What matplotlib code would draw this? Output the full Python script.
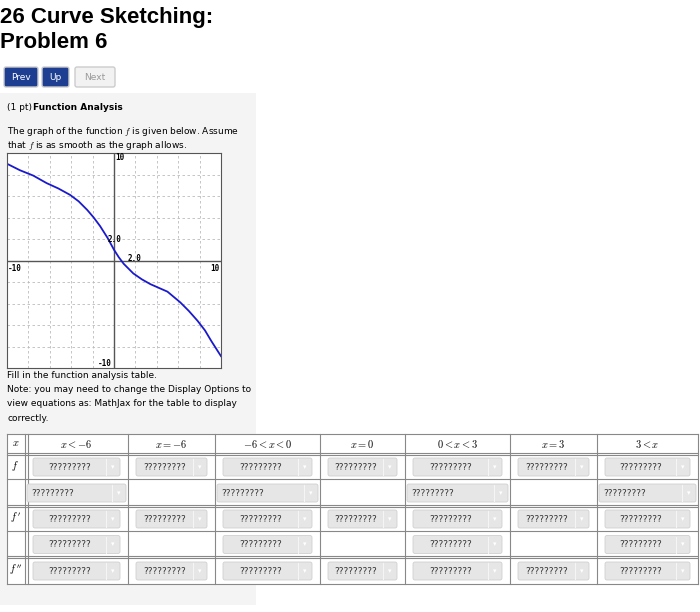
import matplotlib
matplotlib.use("Agg")
import matplotlib.pyplot as plt
from matplotlib.patches import Rectangle, FancyBboxPatch

plt.rcParams["mathtext.fontset"] = "cm"

curve_x = [-10, -8.8, -7.55, -6.3, -5.2, -4.1, -3.3, -2.5, -1.9, -1.3, -0.6, 0, 0.45, 0.9, 1.8, 2.6,
           3.4, 5, 6.2, 7.0, 7.8, 8.5, 9.1, 10]
curve_y = [9.0, 8.4, 7.9, 7.2, 6.7, 6.1, 5.5, 4.7, 4.0, 3.2, 2.1, 1.0, 0.3, -0.3, -1.2, -1.75,
           -2.2, -2.9, -3.9, -4.7, -5.6, -6.5, -7.5, -8.9]
headers = ["$x<-6$", "$x=-6$", "$-6<x<0$", "$x=0$", "$0<x<3$", "$x=3$", "$3<x$"]
row_labels = ["$f$", "", "$f\\,'$", "", "$f\\,''$"]
placeholder = "?????????"

fig = plt.figure(figsize=(7, 6.12), dpi=100)
ax = fig.add_axes([0, 0, 1, 1])
ax.set_xlim(0, 700); ax.set_ylim(612, 0); ax.axis("off")

ax.text(0, 18, "26 Curve Sketching:", fontsize=16, fontweight="bold", va="center", family="Liberation Sans")
ax.text(0, 43, "Problem 6", fontsize=16, fontweight="bold", va="center", family="Liberation Sans")

for (x0, x1, lab, fc, tc) in [(4, 38, "Prev", "#1d3e91", "white"), (42, 69, "Up", "#1d3e91", "white"),
                             (75, 115, "Next", "#f2f2f2", "#999999")]:
    ax.add_patch(FancyBboxPatch((x0, 67), x1 - x0, 20, boxstyle="round,pad=0,rounding_size=2",
                                fc=fc, ec="#cccccc"))
    ax.text((x0 + x1) / 2, 77, lab, fontsize=6.5, color=tc, ha="center", va="center")

ax.add_patch(Rectangle((0, 93), 256, 512, fc="#f4f4f4", ec="none"))
ax.text(7, 107, "(1 pt) ", fontsize=6.5, va="center")
ax.text(33, 107, "Function Analysis", fontsize=6.5, fontweight="bold", va="center")
ax.text(7, 132, "The graph of the function $f$ is given below. Assume", fontsize=6.5, va="center")
ax.text(7, 146, "that $f$ is as smooth as the graph allows.", fontsize=6.5, va="center")
for i, t in enumerate(["Fill in the function analysis table.",
                       "Note: you may need to change the Display Options to",
                       "view equations as: MathJax for the table to display",
                       "correctly."]):
    ax.text(7, 375 + 14.5 * i, t, fontsize=6.5, va="center")

# table
cols = [25, 128, 215, 320, 405, 510, 597, 698]
rows = [434, 453, 479, 505, 531, 556, 584]
ax.add_patch(Rectangle((7, 434), 691, 150, fc="white", ec="none", zorder=1))
for c in [7] + cols:
    ax.plot([c, c], [434, 584], color="#888888", lw=0.8, zorder=3)
ax.plot([28, 28], [434, 584], color="#888888", lw=0.8, zorder=3)
for r in rows:
    ax.plot([7, 698], [r, r], color="#888888", lw=0.8, zorder=3)
for r in [453, 505, 556]:
    ax.plot([7, 698], [r + 2, r + 2], color="#888888", lw=0.8, zorder=3)
ax.text(16, 443.5, "$x$", fontsize=7.5, ha="center", va="center", zorder=4)
for i, h in enumerate(headers):
    ax.text((cols[i] + cols[i + 1]) / 2, 443.5, h, fontsize=7.5, ha="center", va="center", zorder=4)
for j, lab in enumerate(row_labels):
    ax.text(15, (rows[j + 1] + rows[j + 2]) / 2, lab, fontsize=7.5, ha="center", va="center", zorder=4)

def dropdown(x0, x1, yc):
    ax.add_patch(FancyBboxPatch((x0, yc - 9), x1 - x0, 18, boxstyle="round,pad=0,rounding_size=2",
                                fc="#e6e6e6", ec="#d0d0d0", lw=0.6, zorder=4))
    ax.plot([x1 - 14, x1 - 14], [yc - 8, yc + 8], color="#f5f5f5", lw=0.8, zorder=5)
    ax.text(x1 - 7, yc, "▾", fontsize=5, color="white", ha="center", va="center", zorder=5)

for j in range(5):
    yc = (rows[j + 1] + rows[j + 2]) / 2 + 1
    for i in range(7):
        a, b = cols[i], cols[i + 1]
        if j in (0, 2, 4) or (j == 3 and i % 2 == 0):
            dropdown(a + 8, b - 8, yc)
            ax.text((a + 8 + b - 22) / 2, yc, placeholder, fontsize=6.5, color="#333333",
                    ha="center", va="center", zorder=6)
        elif j == 1 and i % 2 == 0:
            dropdown(a + 2, b - 2, yc)
            ax.text(a + 6, yc, placeholder, fontsize=6.5, color="#333333", va="center", zorder=6)

# graph
gx = fig.add_axes([7 / 700, 1 - 368 / 612, 214 / 700, 215 / 612])
gx.set_xlim(-10, 10); gx.set_ylim(-10, 10)
for v in range(-8, 10, 2):
    gx.axvline(v, color="#bbbbbb", lw=0.6, ls=(0, (3, 3)))
    gx.axhline(v, color="#bbbbbb", lw=0.6, ls=(0, (3, 3)))
gx.axvline(0, color="#555555", lw=1)
gx.axhline(0, color="#555555", lw=1)
gx.plot(curve_x, curve_y, color="#1a1acc", lw=1.3)
gx.set_xticks([]); gx.set_yticks([])
for s in gx.spines.values():
    s.set_color("#555555")
kw = dict(fontsize=5.5, family="DejaVu Sans Mono", fontweight="bold")
gx.text(0.1, 9.6, "10", va="center", **kw)
gx.text(-0.2, -9.6, "-10", va="center", ha="right", **kw)
gx.text(-9.9, -0.3, "-10", va="top", **kw)
gx.text(9.9, -0.3, "10", va="top", ha="right", **kw)
gx.text(-0.6, 2.0, "2.0", va="center", **kw)
gx.text(1.3, -0.2, "2.0", va="bottom", **kw)

fig.savefig("out.png", dpi=100, facecolor="white")
